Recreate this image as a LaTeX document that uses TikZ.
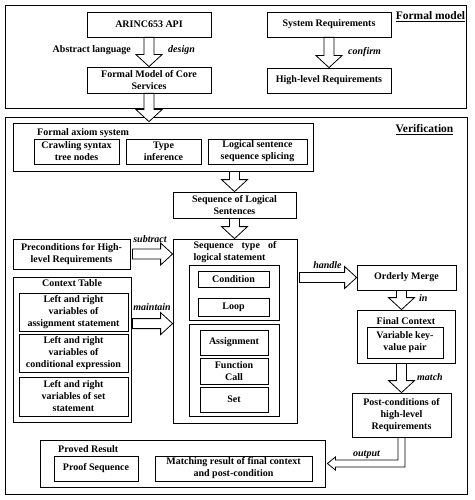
\documentclass[tikz,border=0pt]{standalone}
\usepackage{fontspec}
\setmainfont{Liberation Serif}
\usetikzlibrary{calc,positioning}

% hollow block arrows between two named points
\newcommand{\downblock}[2]{%
  \draw[blk] let \p1=(#1), \p2=(#2) in
    (\x1-5pt,\y1) -- (\x1-5pt,\y2+12pt) -- (\x1-13pt,\y2+12pt) -- (\x1,\y2)
    -- (\x1+13pt,\y2+12pt) -- (\x1+5pt,\y2+12pt) -- (\x1+5pt,\y1) -- cycle;}
\newcommand{\rightblock}[2]{%
  \draw[blk] let \p1=(#1), \p2=(#2) in
    (\x1,\y1+5pt) -- (\x2-12pt,\y1+5pt) -- (\x2-12pt,\y1+11pt) -- (\x2,\y1)
    -- (\x2-12pt,\y1-11pt) -- (\x2-12pt,\y1-5pt) -- (\x1,\y1-5pt) -- cycle;}

\begin{document}
\begin{tikzpicture}[x=1pt,y=-1pt,
    every node/.style={font=\fontsize{10}{12}\selectfont\bfseries},
    box/.style={draw,line width=0.8pt,align=center,inner sep=1pt},
    sz/.style 2 args={minimum width=#1pt,minimum height=#2pt},
    lbl/.style={font=\fontsize{10}{12}\selectfont\bfseries\itshape,inner sep=1pt},
    ttl/.style={font=\fontsize{11.5}{13}\selectfont\bfseries,inner sep=1pt},
    blk/.style={draw,fill=white,line width=0.8pt,line join=miter},
  ]
  \useasboundingbox (0,0) rectangle (474,500);

  % outer frames
  \node[box,sz={461}{103}] (fm) at (235.5,56.5) {};
  \node[box,sz={462}{377}] (ver) at (236,305.5) {};
  \node[ttl] at (430.5,17) {\underline{Formal model}};
  \node[ttl] at (424.5,130) {\underline{Verification}};

  % formal model part
  \node[box,sz={124}{25}] (api) at (149,24.5) {ARINC653 API};
  \node[box,sz={124}{25}] (sysreq) at (329,24.5) {System Requirements};
  \node[box,sz={124}{26}] (fmcore) at (149,80) {Formal Model of Core\\Services};
  \node[box,sz={124}{25}] (hlreq) at (329,80.5) {High-level Requirements};
  \node[anchor=east,inner sep=1pt] at (132,50) {Abstract language};
  \node[lbl,anchor=west] at (167,50) {design};
  \node[lbl,anchor=west] at (347,52) {confirm};

  % formal axiom system
  \node[box,sz={300}{48}] (axiom) at (163,147) {};
  \node[anchor=west,inner sep=1pt] at (36,133) {Formal axiom system};
  \node[box,sz={85}{25}] (crawl) at (76.5,151.5) {Crawling syntax\\tree nodes};
  \node[box,sz={75}{25}] (typeinf) at (163.5,151.5) {Type\\inference};
  \node[box,sz={99}{25}] (splice) at (257.5,151.5) {Logical sentence\\sequence splicing};
  \node[box,sz={123}{26}] (seqlog) at (234.5,205) {Sequence of Logical\\Sentences};

  % sequence type of logical statement
  \node[box,sz={124}{184}] (seqtype) at (235,331) {};
  \node[anchor=north,align=justify,text width=83pt,inner sep=0pt] at (235,241)
    {Sequence type of logical statement};
  \node[box,sz={90}{55}] (grpA) at (234,292.5) {};
  \node[box,sz={71}{16}] (cond) at (233.5,279.5) {Condition};
  \node[box,sz={71}{18}] (loop) at (233.5,307) {Loop};
  \node[box,sz={90}{92}] (grpB) at (234,370) {};
  \node[box,sz={68}{25}] (assign) at (234,342.5) {Assignment};
  \node[box,sz={68}{26}] (func) at (234,371) {Function\\Call};
  \node[box,sz={68}{25}] (setb) at (234,399.5) {Set};

  % left column
  \node[box,sz={117}{30}] (pre) at (71.5,254) {Preconditions for High-\\level Requirements};
  \node[box,sz={118}{145}] (ctx) at (72,349.5) {};
  \node[inner sep=1pt] at (72,283) {Context Table};
  \node[box,sz={109}{38}] (ctxA) at (73.5,312) {Left and right\\variables of\\assignment statement};
  \node[box,sz={109}{38}] (ctxB) at (73.5,353) {Left and right\\variables of\\conditional expression};
  \node[box,sz={109}{39}] (ctxC) at (73.5,396.5) {Left and right\\variables of set\\statement};
  \node[lbl] at (150,239) {subtract};
  \node[lbl] at (152,307) {maintain};

  % right column
  \node[box,sz={99}{25}] (merge) at (406.5,277.5) {Orderly Merge};
  \node[box,sz={98}{53}] (final) at (406,336.5) {};
  \node[inner sep=1pt] at (406,321) {Final Context};
  \node[box,sz={76}{31}] (kv) at (405,342.5) {Variable key-\\value pair};
  \node[box,sz={99}{44}] (post) at (401.5,415) {Post-conditions of\\high-level\\Requirements};
  \node[lbl] at (327.5,265) {handle};
  \node[lbl,anchor=west] at (418,298) {in};
  \node[lbl,anchor=west] at (416,377) {match};
  \node[lbl] at (366.5,455) {output};

  % proved result
  \node[box,sz={285}{47}] (proved) at (182.5,463.5) {};
  \node[anchor=west,inner sep=1pt] at (57,449) {Proved Result};
  \node[box,sz={84}{25}] (proofseq) at (96,468.5) {Proof Sequence};
  \node[box,sz={157}{25}] (matchres) at (233.5,468.5) {Matching result of final context\\and post-condition};

  % block arrows
  \coordinate (vtip) at ($(ver.north -| fmcore.south)+(0,5)$);
  \downblock{api.south}{fmcore.north}
  \downblock{sysreq.south}{hlreq.north}
  \downblock{fmcore.south}{vtip}
  \downblock{seqlog.north |- axiom.south}{seqlog.north}
  \downblock{seqlog.south}{seqtype.north}
  \downblock{merge.south -| post.north}{final.north -| post.north}
  \downblock{final.south -| post.north}{post.north}
  \rightblock{$(pre.east)+(2,0)$}{seqtype.west |- pre.east}
  \rightblock{$(ctx.east |- grpB.north)+(1,0)$}{seqtype.west |- grpB.north}
  \rightblock{$(seqtype.east |- merge.west)+(2,0)$}{merge.west}
  \draw[blk] let \p1=(post.south), \p2=($(proved.east)+(2,0)$) in
    (\x1-3.5pt,\y1) -- (\x1-3.5pt,\y2+3.5pt) -- (\x2+8pt,\y2+3.5pt) -- (\x2+8pt,\y2+6.5pt)
    -- (\x2,\y2) -- (\x2+8pt,\y2-6.5pt) -- (\x2+8pt,\y2-3.5pt) -- (\x1+3.5pt,\y2-3.5pt)
    -- (\x1+3.5pt,\y1) -- cycle;
\end{tikzpicture}
\end{document}
